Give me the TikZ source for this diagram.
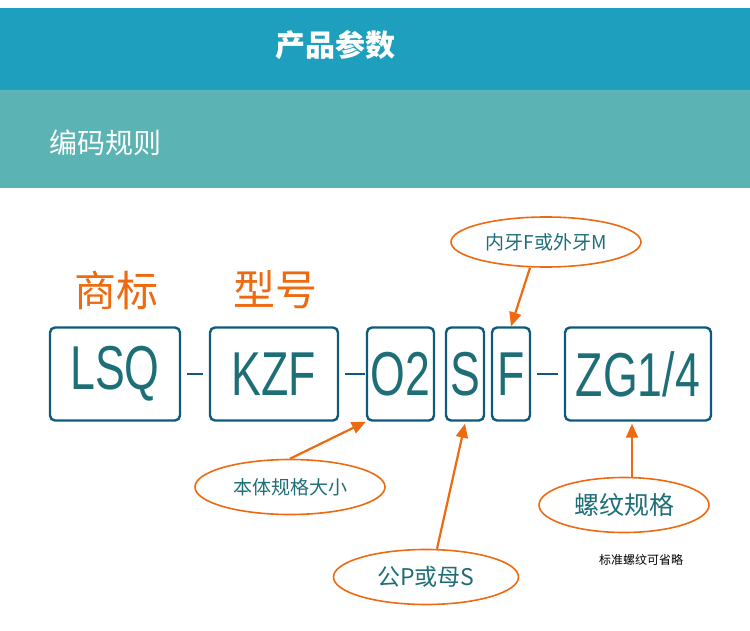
\documentclass[tikz,border=0pt]{standalone}
\usepackage{fontspec}
\setmainfont{Liberation Sans}
\newfontfamily\cjk{Noto Sans CJK SC}
\newfontfamily\cjkb{Noto Sans CJK SC Black}
\usetikzlibrary{arrows.meta}
\definecolor{hblue}{HTML}{1E9FBE}
\definecolor{hteal}{HTML}{5BB3B3}
\definecolor{bxline}{HTML}{0E5A7A}
\definecolor{bxtxt}{HTML}{1E6E78}
\definecolor{org}{HTML}{EE6A10}
\tikzset{
  codebox/.style={draw=bxline,line width=2.4pt,rounded corners=5pt,inner sep=0pt,minimum height=93pt,text=bxtxt,font=\fontsize{62}{62}\selectfont},
  dashline/.style={bxline,line width=2pt},
  lbl/.style={draw=org,line width=1.6pt,ellipse,inner sep=0pt,text=bxtxt},
  arr/.style={org,line width=2.2pt,-{Triangle[length=14pt,width=12pt]}},
}
\usetikzlibrary{shapes.geometric}
\begin{document}
\begin{tikzpicture}[x=1pt,y=-1pt]
\useasboundingbox (0,0) rectangle (750,631);
\fill[hblue] (0,8) rectangle (750,90);
\fill[hteal] (0,90) rectangle (750,188);
\node[text=white,font=\cjkb\fontsize{30}{30}\selectfont] (title) at (335,45) {产品参数};
\node[text=white,font=\cjk\fontsize{28}{28}\selectfont,anchor=west] (sub) at (46,143) {编码规则};
\node[text=org,font=\cjk\fontsize{42}{42}\selectfont] (sb) at (116,290) {商标};
\node[text=org,font=\cjk\fontsize{42}{42}\selectfont] (xh) at (275,290) {型号};
\node[codebox,minimum width=130pt] (b1) at (115,374) {\scalebox{0.72}[1]{LSQ}};
\node[codebox,minimum width=128pt] (b2) at (274,374) {\scalebox{0.72}[1]{KZF}};
\node[codebox,minimum width=67pt] (b3) at (400.5,374) {\scalebox{0.72}[1]{O2}};
\node[codebox,minimum width=38pt] (b4) at (465,374) {\scalebox{0.72}[1]{S}};
\node[codebox,minimum width=38pt] (b5) at (511,374) {\scalebox{0.72}[1]{F}};
\node[codebox,minimum width=146pt] (b6) at (638,374) {\scalebox{0.72}[1]{ZG1/4}};
\draw[dashline] ([xshift=6pt]b1.east) -- ([xshift=-6pt]b2.west);
\draw[dashline] ([xshift=6pt]b2.east) -- ([xshift=-1pt]b3.west);
\draw[dashline] ([xshift=6pt]b5.east) -- ([xshift=-6pt]b6.west);
\node[lbl,minimum width=190pt,minimum height=50pt,font=\cjk\fontsize{19}{19}\selectfont] (e1) at (546,242) {内牙F或外牙M};
\node[lbl,minimum width=190pt,minimum height=55pt,font=\cjk\fontsize{19}{19}\selectfont] (e2) at (290,487) {本体规格大小};
\node[lbl,minimum width=185pt,minimum height=55pt,font=\cjk\fontsize{23}{23}\selectfont] (e3) at (426,577) {公P或母S};
\node[lbl,minimum width=170pt,minimum height=55pt,font=\cjk\fontsize{25}{25}\selectfont] (e4) at (624,505) {螺纹规格};
\node[font=\cjk\fontsize{12}{12}\selectfont] (note) at (641,560) {标准螺纹可省略};
\draw[arr] (e1.south) ++(-16,0) coordinate (a1) -- (b5.north);
\draw[arr] (e2.north) -- (b3.south west);
\draw[arr] ([xshift=11pt]e3.north) -- ([yshift=-2pt]b4.south);
\draw[arr] ([xshift=8pt]e4.north) -- ([xshift=-6pt,yshift=-2pt]b6.south);
\end{tikzpicture}
\end{document}
